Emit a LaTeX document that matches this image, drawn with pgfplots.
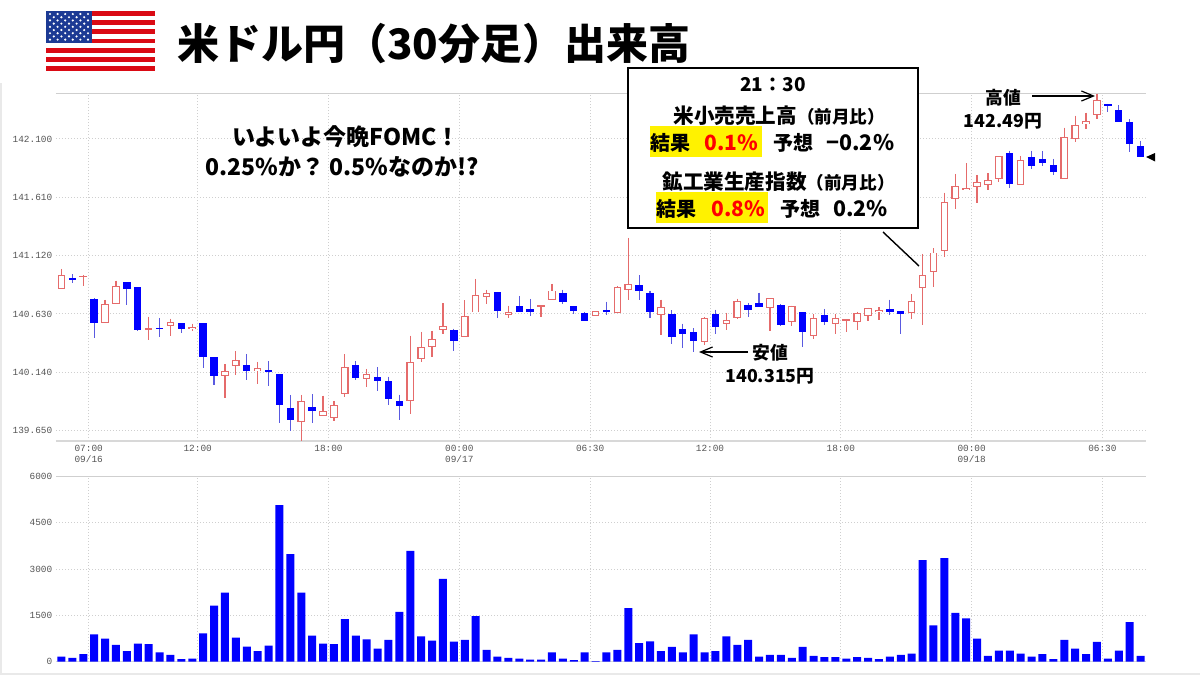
\documentclass[border=0pt]{standalone}
\usepackage{fontspec}
\usepackage{pgfplots}
\usepackage{pgfplotstable}
\pgfplotsset{compat=1.18}
\usetikzlibrary{arrows.meta}
\newfontfamily\cjk{Noto Sans CJK JP}
\newfontfamily\ticks{Liberation Mono}
\setmainfont{Liberation Sans}
\definecolor{upc}{HTML}{E56B6B}
\definecolor{wickb}{HTML}{5A5AE0}
\definecolor{gridc}{HTML}{CFCFCF}
\definecolor{tickc}{HTML}{555555}
\definecolor{flagred}{HTML}{DA0A14}
\definecolor{flagblue}{HTML}{1C3A94}
\newcommand{\fs}[1]{\fontsize{#1}{#1}\selectfont}
% i low body-low body-high high up
\pgfplotstableread{
i lo bl bh hi up
0 140.843 140.843 140.949 141.008 1
1 140.888 140.921 140.930 140.963 0
2 140.868 140.944 140.949 140.958 1
3 140.431 140.554 140.756 140.762 0
4 140.557 140.563 140.706 140.748 1
5 140.717 140.717 140.857 140.910 1
6 140.706 140.846 140.896 140.896 0
7 140.487 140.501 140.851 140.851 0
8 140.414 140.504 140.510 140.608 1
9 140.440 140.504 140.512 140.596 0
10 140.445 140.532 140.560 140.591 1
11 140.468 140.507 140.549 140.549 0
12 140.490 140.504 140.512 140.549 1
13 140.176 140.269 140.549 140.549 0
14 140.031 140.112 140.266 140.266 0
15 139.924 140.115 140.148 140.207 1
16 140.120 140.196 140.235 140.316 1
17 140.076 140.151 140.199 140.294 0
18 140.045 140.157 140.168 140.227 1
19 140.020 140.146 140.154 140.232 0
20 139.717 139.871 140.126 140.126 0
21 139.650 139.742 139.835 139.950 0
22 139.565 139.726 139.891 139.950 1
23 139.717 139.815 139.846 139.955 0
24 139.768 139.782 139.807 139.944 1
25 139.729 139.760 139.858 139.900 1
26 139.933 139.964 140.182 140.291 1
27 140.073 140.095 140.196 140.235 0
28 140.014 140.090 140.118 140.168 1
29 139.986 140.073 140.098 140.182 0
30 139.866 139.916 140.067 140.104 0
31 139.737 139.860 139.896 139.952 0
32 139.787 139.908 140.224 140.448 1
33 140.227 140.258 140.350 140.479 1
34 140.272 140.361 140.412 140.487 1
35 140.459 140.504 140.521 140.720 1
36 140.319 140.406 140.496 140.507 0
37 140.437 140.440 140.605 140.745 1
38 140.644 140.647 140.781 140.924 1
39 140.717 140.781 140.801 140.832 1
40 140.599 140.658 140.812 140.815 0
41 140.596 140.630 140.641 140.700 1
42 140.652 140.652 140.694 140.781 0
43 140.616 140.652 140.672 140.756 0
44 140.605 140.694 140.700 140.700 1
45 140.756 140.756 140.823 140.882 1
46 140.711 140.731 140.804 140.834 0
47 140.633 140.658 140.694 140.697 0
48 140.574 140.574 140.638 140.647 0
49 140.613 140.616 140.647 140.650 1
50 140.622 140.647 140.661 140.734 0
51 140.644 140.647 140.848 140.862 1
52 140.750 140.834 140.876 141.268 1
53 140.745 140.823 140.874 140.955 0
54 140.596 140.647 140.801 140.826 0
55 140.456 140.630 140.683 140.750 1
56 140.378 140.440 140.627 140.661 0
57 140.342 140.462 140.496 140.549 0
58 140.314 140.406 140.473 140.510 0
59 140.367 140.398 140.591 140.605 1
60 140.465 140.521 140.627 140.666 0
61 140.496 140.552 140.577 140.638 1
62 140.588 140.602 140.731 140.759 1
63 140.605 140.666 140.703 140.722 0
64 140.689 140.689 140.722 140.809 0
65 140.490 140.683 140.756 140.756 1
66 140.526 140.540 140.703 140.711 0
67 140.526 140.568 140.692 140.700 1
68 140.350 140.484 140.641 140.644 0
69 140.417 140.448 140.591 140.630 1
70 140.538 140.563 140.616 140.672 0
71 140.465 140.552 140.594 140.633 1
72 140.479 140.577 140.582 140.582 1
73 140.496 140.566 140.630 140.650 1
74 140.568 140.616 140.672 140.683 1
75 140.582 140.650 140.658 140.686 1
76 140.624 140.652 140.666 140.750 0
77 140.465 140.630 140.650 140.650 0
78 140.585 140.644 140.736 140.798 1
79 140.535 140.854 140.955 141.134 1
80 140.854 140.988 141.142 141.182 1
81 141.112 141.165 141.565 141.649 1
82 141.515 141.602 141.700 141.806 1
83 141.672 141.677 141.686 141.896 1
84 141.565 141.705 141.739 141.798 1
85 141.674 141.722 141.753 141.812 1
86 141.736 141.770 141.949 141.954 1
87 141.688 141.722 141.977 142.002 0
88 141.719 141.722 141.918 141.957 1
89 141.848 141.876 141.949 142.002 0
90 141.876 141.901 141.929 141.999 0
91 141.795 141.826 141.879 141.932 0
92 141.770 141.770 142.108 142.195 1
93 142.078 142.103 142.212 142.296 1
94 142.181 142.234 142.243 142.321 1
95 142.265 142.310 142.419 142.480 1
96 142.330 142.386 142.391 142.394 0
97 142.248 142.248 142.344 142.383 0
98 141.994 142.061 142.237 142.265 0
99 141.946 141.955 142.036 142.086 0
}\candles
\pgfplotstableread{
i v
0 160
1 118
2 236
3 880
4 740
5 537
6 333
7 580
8 560
9 300
10 215
11 75
12 97
13 910
14 1815
15 2236
16 774
17 484
18 333
19 516
20 5074
21 3483
22 2236
23 838
24 580
25 560
26 1376
27 838
28 720
29 420
30 700
31 1612
32 3590
33 817
34 677
35 2677
36 645
37 700
38 1473
39 376
40 160
41 118
42 97
43 65
44 65
45 300
46 97
47 43
48 300
49 15
50 300
51 376
52 1730
53 600
54 655
55 333
56 473
57 300
58 880
59 300
60 333
61 817
62 537
63 700
64 160
65 215
66 215
67 118
68 473
69 183
70 140
71 140
72 97
73 140
74 118
75 75
76 160
77 215
78 258
79 3290
80 1172
81 3354
82 1580
83 1398
84 742
85 183
86 355
87 355
88 258
89 160
90 236
91 75
92 700
93 420
94 236
95 634
96 97
97 355
98 1280
99 183
}\volumes
\pgfplotsset{
  chartaxis/.style={
    scale only axis, width=545pt,
    xmin=-0.5, xmax=99.5,
    axis line style={draw=none},
    major tick length=0pt,
    xtick={2.5,12.5,24.5,36.5,48.5,59.5,71.5,83.5,95.5},
    grid=both,
    grid style={gridc, line width=0.5pt, densely dotted},
    tick label style={font=\ticks\fontsize{4.7}{5.6}\selectfont, text=tickc},
    y tick label style={inner sep=0pt, xshift=-1.7pt},
    clip=false,
  },
  ebar/.style={draw=none, mark=none, forget plot,
    error bars/.cd, y dir=both, y explicit, error mark=none, error bar style={solid,#1}},
}
\begin{document}
\begin{tikzpicture}
\useasboundingbox (0,0) rectangle (600pt,-337.5pt);
\fill[white] (0,0) rectangle (600pt,-337.5pt);
% candle panel
\begin{axis}[chartaxis, at={(28pt,-220.5pt)}, anchor=south west, height=173.75pt,
    ymin=139.562, ymax=142.482,
    ytick={139.65,140.14,140.63,141.12,141.61,142.1},
    yticklabels={139.650,140.140,140.630,141.120,141.610,142.100},
    xticklabels={{07:00\\09/16},12:00,18:00,{00:00\\09/17},06:30,12:00,18:00,{00:00\\09/18},06:30},
    x tick label style={align=center, inner sep=0pt, yshift=-2pt},
  ]
  \draw[gridc, line width=0.5pt] (rel axis cs:0,1) -- (rel axis cs:1,1);
  \draw[gridc!80, line width=1pt] (rel axis cs:0,0) -- (rel axis cs:1,0);
  % wicks
  \addplot[ebar={upc, line width=0.6pt}] table[x=i, y expr={\thisrow{up}==1 ? \thisrow{hi} : \thisrow{bl}},
     y error plus expr=0, y error minus expr={\thisrow{up}==1 ? \thisrow{hi}-\thisrow{lo} : 0}] {\candles};
  \addplot[ebar={wickb, line width=0.6pt}] table[x=i, y expr={\thisrow{up}==0 ? \thisrow{hi} : \thisrow{bl}},
     y error plus expr=0, y error minus expr={\thisrow{up}==0 ? \thisrow{hi}-\thisrow{lo} : 0}] {\candles};
  % rising bodies: outline, then white centre
  \addplot[ebar={upc, line width=3.8pt}] table[x=i, y expr={(\thisrow{bl}+\thisrow{bh})/2},
     y error plus expr={\thisrow{up}==1 ? (\thisrow{bh}-\thisrow{bl})/2+0.005 : 0},
     y error minus expr={\thisrow{up}==1 ? (\thisrow{bh}-\thisrow{bl})/2+0.005 : 0}] {\candles};
  \addplot[ebar={white, line width=2.6pt}] table[x=i, y expr={(\thisrow{bl}+\thisrow{bh})/2},
     y error plus expr={\thisrow{up}==1 ? max((\thisrow{bh}-\thisrow{bl})/2-0.003,0) : 0},
     y error minus expr={\thisrow{up}==1 ? max((\thisrow{bh}-\thisrow{bl})/2-0.003,0) : 0}] {\candles};
  % falling bodies
  \addplot[ebar={blue, line width=3.7pt}] table[x=i, y expr={(\thisrow{bl}+\thisrow{bh})/2},
     y error plus expr={\thisrow{up}==0 ? (\thisrow{bh}-\thisrow{bl})/2+0.003 : 0},
     y error minus expr={\thisrow{up}==0 ? (\thisrow{bh}-\thisrow{bl})/2+0.003 : 0}] {\candles};
\end{axis}
% volume panel
\begin{axis}[chartaxis, at={(28pt,-330.75pt)}, anchor=south west, height=92.5pt,
    ymin=0, ymax=6000, ytick={0,1500,3000,4500,6000},
    yticklabels={0,1500,3000,4500,6000},
    xticklabels={}, 
  ]
  \draw[gridc, line width=0.5pt] (rel axis cs:0,1) -- (rel axis cs:1,1);
  \draw[gridc!80, line width=0.75pt] (rel axis cs:0,0) -- (rel axis cs:1,0);
  \addplot[ybar, bar shift=0pt, bar width=4pt, fill=blue, draw=none] table[x=i,y=v] {\volumes};
\end{axis}
\begin{scope}[x=0.5pt,y=-0.5pt]
\draw[gridc!45, line width=0.75pt] (1,83) -- (1,675);
\draw[gridc!45, line width=0.75pt] (0,674) -- (1200,674);
% flag
\fill[white] (46,11) rectangle (155,71);
\foreach \s in {0,2,...,12}{
  \fill[flagred] (46,{11+\s*60/13}) rectangle (155,{11+(\s+1)*60/13});
}
\fill[flagblue] (46,11) rectangle (92,43);
\foreach \r in {0,2,...,8}{\foreach \c in {0,...,5}{
  \fill[white] ({50+\c*7.6},{14+\r*3.2}) circle (1.2);}}
\foreach \r in {1,3,...,7}{\foreach \c in {0,...,4}{
  \fill[white] ({53.8+\c*7.6},{14+\r*3.2}) circle (1.2);}}
% title
\node[anchor=west, inner sep=0pt] at (177,44) {\cjk\bfseries\fs{21}米ドル円（30分足）出来高};
% last-price marker
\fill[black] (1146,157) -- (1155,153) -- (1155,161.5) -- cycle;
% comment
\node[inner sep=0pt] at (346,137) {\cjk\bfseries\fs{11.5}いよいよ今晩FOMC！};
\node[inner sep=0pt] at (342,167) {\cjk\bfseries\fs{11.5}0.25\%か？ 0.5\%なのか!?};
% info box
\draw[black, line width=0.9pt, fill=white] (628,68) rectangle (918,228);
\fill[yellow] (650,126) rectangle (762,157);
\fill[yellow] (656,192) rectangle (768,223);
\node[inner sep=0pt] at (773,85) {\cjk\bfseries\fs{9.5}21：30};
\node[anchor=west, inner sep=0pt] at (673,116) {\cjk\bfseries\fs{10.3}米小売売上高\fs{8.8}（前月比）};
\node[anchor=west, inner sep=0pt] at (650,143) {\cjk\bfseries\fs{10}結果};
\node[anchor=west, inner sep=0pt] at (704,143) {\cjk\bfseries\fs{10.5}\textcolor{red}{0.1\%}};
\node[anchor=west, inner sep=0pt] at (773,143) {\cjk\bfseries\fs{10}予想};
\node[anchor=west, inner sep=0pt] at (826,143) {\cjk\bfseries\fs{10.7}−0.2\%};
\node[anchor=west, inner sep=0pt] at (662,182) {\cjk\bfseries\fs{10.3}鉱工業生産指数\fs{8.8}（前月比）};
\node[anchor=west, inner sep=0pt] at (656,209) {\cjk\bfseries\fs{10}結果};
\node[anchor=west, inner sep=0pt] at (711,209) {\cjk\bfseries\fs{10.5}\textcolor{red}{0.8\%}};
\node[anchor=west, inner sep=0pt] at (780,209) {\cjk\bfseries\fs{10}予想};
\node[anchor=west, inner sep=0pt] at (833,209) {\cjk\bfseries\fs{10.7}0.2\%};
\draw[black, line width=0.7pt] (883,232) -- (919,266);
% low
\draw[black, line width=0.6pt, -{Straight Barb[length=6pt,width=5pt]}] (748,352) -- (699,352);
\node[inner sep=0pt] at (770,353) {\cjk\bfseries\fs{8.9}安値};
\node[inner sep=0pt] at (770,376) {\cjk\bfseries\fs{8.9}140.315円};
% high
\draw[black, line width=0.6pt, -{Straight Barb[length=6pt,width=5pt]}] (1032,96) -- (1095,96);
\node[inner sep=0pt] at (1003,98) {\cjk\bfseries\fs{8.9}高値};
\node[inner sep=0pt] at (1003,121) {\cjk\bfseries\fs{8.9}142.49円};
\end{scope}
\end{tikzpicture}
\end{document}
